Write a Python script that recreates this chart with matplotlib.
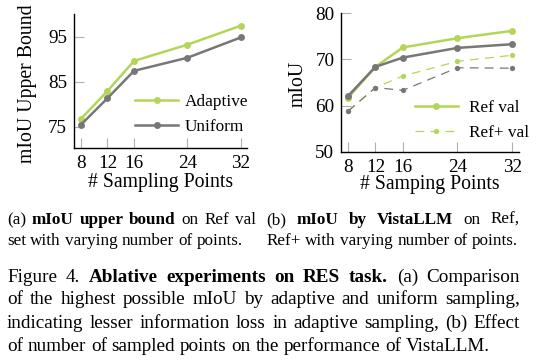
import matplotlib
matplotlib.use("Agg")
import matplotlib.pyplot as plt

plt.rcParams['font.family'] = ['Liberation Serif', 'DejaVu Serif']

points = [8, 12, 16, 24, 32]

# (a) mIoU upper bound
adaptive = [76.7, 82.9, 89.6, 93.2, 97.4]
uniform = [75.4, 81.3, 87.4, 90.3, 94.8]

# (b) mIoU by VistaLLM
ref_adaptive = [61.7, 68.4, 72.6, 74.6, 76.2]
ref_uniform = [62.1, 68.4, 70.4, 72.5, 73.3]
refp_adaptive = [58.8, 63.9, 66.4, 69.6, 70.9]
refp_uniform = [58.8, 63.9, 63.3, 68.2, 68.1]

green = '#b3d65a'
gray = '#777777'

W, H = 546, 364
fig = plt.figure(figsize=(W / 100, H / 100), dpi=100)

def px_axes(x0, y0, x1, y1):
    return fig.add_axes([x0 / W, 1 - y1 / H, (x1 - x0) / W, (y1 - y0) / H])

def style(ax):
    for s in ['top', 'right']:
        ax.spines[s].set_visible(False)
    for s in ['left', 'bottom']:
        ax.spines[s].set_linewidth(1.0)
    ax.tick_params(direction='in', length=7.5, width=0.8, color='#b0b0b0',
                   labelsize=13.8, pad=5)
    ax.set_xticks(points)
    ax.set_xlim(7, 33)

# left panel
ax1 = px_axes(74, 14, 247.4, 148)
style(ax1)
ax1.plot(points, adaptive, color=green, lw=1.8, marker='o', ms=5, mew=0,
         label='Adaptive')
ax1.plot(points, uniform, color=gray, lw=1.8, marker='o', ms=5, mew=0,
         label='Uniform')
ax1.set_ylim(70.3, 100)
ax1.set_yticks([75, 85, 95])
ax1.set_ylabel('mIoU Upper Bound', fontsize=14.2)
ax1.yaxis.set_label_coords(-0.213, 0.481)
ax1.set_xlabel('# Sampling Points', fontsize=14.2)
ax1.xaxis.set_label_coords(0.502, -0.19)
ax1.legend(loc='center left', bbox_to_anchor=(0.352, 0.25), frameon=False,
           fontsize=12.4, handlelength=2.5, handletextpad=0.4,
           labelspacing=0.55, borderpad=0, borderaxespad=0)

# right panel
ax2 = px_axes(341.3, 13.3, 519, 151.7)
style(ax2)
ax2.plot(points, ref_adaptive, color=green, lw=1.8, marker='o', ms=5, mew=0,
         label='Ref val')
ax2.plot(points, refp_adaptive, color=green, lw=0.9, ls=(0, (7, 5)),
         marker='o', ms=3.8, mew=0, label='Ref+ val')
ax2.plot(points, ref_uniform, color=gray, lw=1.8, marker='o', ms=5, mew=0)
ax2.plot(points, refp_uniform, color=gray, lw=0.9, ls=(0, (7, 5)),
         marker='o', ms=3.8, mew=0)
ax2.set_ylim(50, 80)
ax2.set_yticks([50, 60, 70, 80])
ax2.set_ylabel('mIoU', fontsize=14.2)
ax2.yaxis.set_label_coords(-0.19, 0.493)
ax2.set_xlabel('# Samping Points', fontsize=14.2)
ax2.xaxis.set_label_coords(0.5, -0.165)
ax2.legend(loc='center left', bbox_to_anchor=(0.413, 0.225), frameon=False,
           fontsize=12.4, handlelength=2.5, handletextpad=0.64,
           labelspacing=0.55, borderpad=0, borderaxespad=0)

# captions
renderer = fig.canvas.get_renderer()

def text_line(words, x0, x1, y, size, justify=True):
    items = []
    for w, b in words:
        t = fig.text(x0 / W, 1 - y / H, w, fontsize=size, va='baseline',
                     fontweight='bold' if b else 'normal')
        items.append(t)
    widths = [t.get_window_extent(renderer).width for t in items]
    if justify and len(items) > 1:
        gap = (x1 - x0 - sum(widths)) / (len(items) - 1)
    else:
        gap = 0.25 * size * 100 / 72
    x = x0
    for t, wd in zip(items, widths):
        t.set_x(x / W)
        x += wd + gap

def words(s, bold=False):
    return [(w, bold) for w in s.split()]

sub = 12.3
text_line(words('(a)') + words('mIoU upper bound', True) + words('on Ref val'),
          7, 256, 224, sub)
text_line(words('set with varying number of points.'), 7, 256, 245, sub, False)
text_line(words('(b)') + words('mIoU by VistaLLM', True) + words('on Ref,'),
          266.7, 520, 224, sub)
text_line(words('Ref+ with varying number of points.'), 266.7, 520, 245, sub, False)

cap = 13.8
text_line(words('Figure 4.') + words('Ablative experiments on RES task.', True)
          + words('(a) Comparison'), 7, 520, 281.7, cap)
text_line(words('of the highest possible mIoU by adaptive and uniform sampling,'),
          7, 520, 304.5, cap)
text_line(words('indicating lesser information loss in adaptive sampling, (b) Effect'),
          7, 520, 327.5, cap)
text_line(words('of number of sampled points on the performance of VistaLLM.'),
          7, 520, 351, cap, False)

fig.savefig('out.png', dpi=100)
